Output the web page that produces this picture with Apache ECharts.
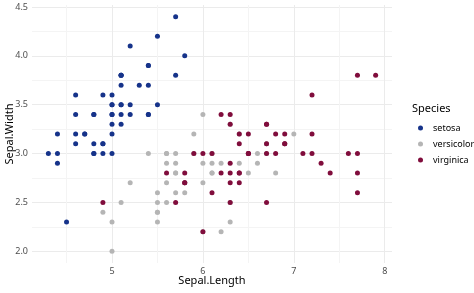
<!DOCTYPE html>
<html>
<head>
<meta charset="utf-8">
<script src="https://cdn.jsdelivr.net/npm/echarts@6/dist/echarts.min.js"></script>
<style>
html,body{margin:0;padding:0;background:#fff;}
#chart{width:474px;height:293px;}
</style>
</head>
<body>
<div id="chart"></div>
<script>
var species = ['setosa', 'versicolor', 'virginica'];
var colors = ['#16338a', '#b5b5b5', '#800d3c'];

var setosaLength = [5.1,4.9,4.7,4.6,5.0,5.4,4.6,5.0,4.4,4.9,5.4,4.8,4.8,4.3,5.8,5.7,5.4,5.1,5.7,5.1,5.4,5.1,4.6,5.1,4.8,5.0,5.0,5.2,5.2,4.7,4.8,5.4,5.2,5.5,4.9,5.0,5.5,4.9,4.4,5.1,5.0,4.5,4.4,5.0,5.1,4.8,5.1,4.6,5.3,5.0];
var setosaWidth  = [3.5,3.0,3.2,3.1,3.6,3.9,3.4,3.4,2.9,3.1,3.7,3.4,3.0,3.0,4.0,4.4,3.9,3.5,3.8,3.8,3.4,3.7,3.6,3.3,3.4,3.0,3.4,3.5,3.4,3.2,3.1,3.4,4.1,4.2,3.1,3.2,3.5,3.6,3.0,3.4,3.5,2.3,3.2,3.5,3.8,3.0,3.8,3.2,3.7,3.3];

var versicolorLength = [7.0,6.4,6.9,5.5,6.5,5.7,6.3,4.9,6.6,5.2,5.0,5.9,6.0,6.1,5.6,6.7,5.6,5.8,6.2,5.6,5.9,6.1,6.3,6.1,6.4,6.6,6.8,6.7,6.0,5.7,5.5,5.5,5.8,6.0,5.4,6.0,6.7,6.3,5.6,5.5,5.5,6.1,5.8,5.0,5.6,5.7,5.7,6.2,5.1,5.7];
var versicolorWidth  = [3.2,3.2,3.1,2.3,2.8,2.8,3.3,2.4,2.9,2.7,2.0,3.0,2.2,2.9,2.9,3.1,3.0,2.7,2.2,2.5,3.2,2.8,2.5,2.8,2.9,3.0,2.8,3.0,2.9,2.6,2.4,2.4,2.7,2.7,3.0,3.4,3.1,2.3,3.0,2.5,2.6,3.0,2.6,2.3,2.7,3.0,2.9,2.9,2.5,2.8];

var virginicaLength = [6.3,5.8,7.1,6.3,6.5,7.6,4.9,7.3,6.7,7.2,6.5,6.4,6.8,5.7,5.8,6.4,6.5,7.7,7.7,6.0,6.9,5.6,7.7,6.3,6.7,7.2,6.2,6.1,6.4,7.2,7.4,7.9,6.4,6.3,6.1,7.7,6.3,6.4,6.0,6.9,6.7,6.9,5.8,6.8,6.7,6.7,6.3,6.5,6.2,5.9];
var virginicaWidth  = [3.3,2.7,3.0,2.9,3.0,3.0,2.5,2.9,2.5,3.6,3.2,2.7,3.0,2.5,2.8,3.2,3.0,3.8,2.6,2.2,3.2,2.8,2.8,2.7,3.3,3.2,2.8,3.0,2.8,3.0,2.8,3.8,2.8,2.8,2.6,3.0,3.4,3.1,3.0,3.1,3.1,3.1,2.7,3.2,3.3,3.0,2.5,3.0,3.4,3.0];

var xMajor = [5, 6, 7, 8];
var xMinor = [4.5, 5.5, 6.5, 7.5];
var yMajor = [2.0, 2.5, 3.0, 3.5, 4.0, 4.5];
var yMinor = [2.25, 2.75, 3.25, 3.75, 4.25];
var xRange = [4.12, 8.08];
var yRange = [1.88, 4.52];

function pairs(a, b) { return a.map(function (v, i) { return [v, b[i]]; }); }
var lengths = [setosaLength, versicolorLength, virginicaLength];
var widths = [setosaWidth, versicolorWidth, virginicaWidth];

var FONT = 'Noto Sans';
var chart = echarts.init(document.getElementById('chart'), null, {renderer: 'canvas'});

function axisBase(range, ticks, major, pos) {
  return {
    type: 'value', min: range[0], max: range[1], position: pos, offset: 0,
    axisLine: {show: false}, axisTick: {show: false, customValues: ticks},
    splitLine: {show: true, lineStyle: {color: major ? '#ebebeb' : '#f4f4f4', width: 1}},
    axisLabel: {show: false, customValues: ticks}
  };
}

var xa0 = axisBase(xRange, xMajor, true, 'bottom');
xa0.axisLabel = {show: true, customValues: xMajor, color: '#4d4d4d', fontSize: 9, fontFamily: FONT, margin: 4,
  formatter: function (v) { return String(v); }};
xa0.name = 'Sepal.Length'; xa0.nameLocation = 'middle'; xa0.nameGap = 12; xa0.nameMoveOverlap = false;
xa0.nameTextStyle = {color: '#000', fontSize: 11, fontFamily: FONT};
var xa1 = axisBase(xRange, xMinor, false, 'bottom');

var ya0 = axisBase(yRange, yMajor, true, 'left');
ya0.axisLabel = {show: true, customValues: yMajor, color: '#4d4d4d', fontSize: 9, fontFamily: FONT, margin: 4,
  formatter: function (v) { return v.toFixed(1); }};
ya0.name = 'Sepal.Width'; ya0.nameLocation = 'middle'; ya0.nameGap = 17; ya0.nameRotate = 90; ya0.nameMoveOverlap = false;
ya0.nameTextStyle = {color: '#000', fontSize: 11, fontFamily: FONT};
var ya1 = axisBase(yRange, yMinor, false, 'left');

var series = species.map(function (s, i) {
  return {
    name: s, type: 'scatter', xAxisIndex: 1, yAxisIndex: 1,
    data: pairs(lengths[i], widths[i]),
    symbol: 'circle', symbolSize: 5,
    itemStyle: {color: colors[i], opacity: 1},
    emphasis: {disabled: true}, z: 3 + i
  };
});

chart.setOption({
  backgroundColor: '#fff',
  animation: false,
  grid: {left: 32, right: 82, top: 5, bottom: 30, containLabel: false, outerBoundsMode: 'none'},
  xAxis: [xa1, xa0],
  yAxis: [ya1, ya0],
  title: {text: 'Species', left: 407, top: 98, textStyle: {fontSize: 11, fontWeight: 'normal', color: '#000', fontFamily: FONT}},
  legend: {
    data: species, orient: 'vertical', left: 413, top: 117,
    icon: 'circle', itemWidth: 5, itemHeight: 5, itemGap: 4,
    textStyle: {fontSize: 9, color: '#000', fontFamily: FONT, lineHeight: 12, padding: [0, 0, 0, 5]},
    selectedMode: false
  },
  series: series
});
</script>
</body>
</html>
